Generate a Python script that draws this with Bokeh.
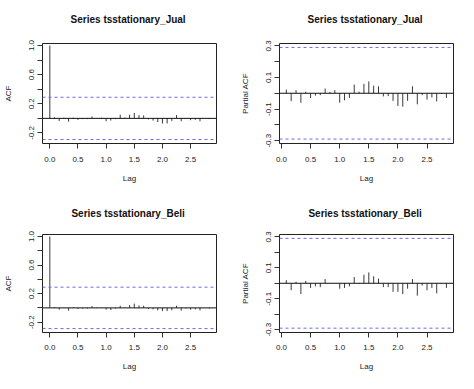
from bokeh.plotting import figure
from bokeh.layouts import column, row
from bokeh.models import Span, FixedTicker, PrintfTickFormatter, Range1d
from bokeh.embed import file_html
from bokeh.resources import INLINE

lags_acf = [k / 12 for k in range(0, 35)]
lags_pacf = [k / 12 for k in range(1, 35)]

acf_jual = [1.0, 0.014, -0.035, 0.01, -0.045, 0.01, -0.02, -0.01, -0.01, 0.025, 0.005, 0.01,
            -0.04, -0.03, -0.01, 0.05, 0.01, 0.05, 0.075, 0.045, 0.04, -0.015, -0.03, -0.05,
            -0.07, -0.07, -0.035, 0.045, -0.04, -0.005, -0.025, -0.02, -0.04, 0.0, -0.01]
pacf_jual = [0.023, -0.05, 0.02, -0.06, 0.01, -0.03, -0.015, -0.012, 0.03, 0.008, 0.02, -0.06,
             -0.045, -0.03, 0.055, 0.01, 0.06, 0.075, 0.048, 0.044, -0.02, -0.018, -0.048, -0.08,
             -0.085, -0.048, 0.044, -0.07, -0.012, -0.04, -0.027, -0.052, -0.005, -0.03]
acf_beli = [1.0, 0.01, -0.025, 0.005, -0.04, 0.01, -0.015, -0.01, -0.01, 0.025, 0.005, 0.005,
            -0.025, -0.03, -0.01, 0.03, 0.005, 0.04, 0.06, 0.035, 0.03, -0.015, -0.02, -0.035,
            -0.045, -0.045, -0.035, 0.03, -0.04, -0.01, -0.025, -0.02, -0.035, 0.0, -0.01]
pacf_beli = [0.02, -0.045, 0.01, -0.07, 0.015, -0.03, -0.02, -0.025, 0.027, 0.0, 0.0, -0.035,
             -0.03, -0.02, 0.04, -0.005, 0.055, 0.07, 0.045, 0.03, -0.025, -0.025, -0.055, -0.055,
             -0.07, -0.035, 0.027, -0.08, -0.015, -0.045, -0.03, -0.065, 0.0, -0.03]

conf_limit = 0.29
titles = ["Series  tsstationary_Jual", "Series  tsstationary_Beli"]
x_ticks = [0, 0.5, 1.0, 1.5, 2.0, 2.5]
acf_major = [-0.2, 0.2, 0.6, 1.0]
acf_minor = [0.0, 0.4, 0.8]
pacf_major = [-0.3, -0.1, 0.1, 0.3]
pacf_minor = [-0.2, 0.0, 0.2]

FONT = "Liberation Sans"


def make_panel(title, lags, vals, kind, left, right, top, bottom, height, width,
               xl_standoff, xa_standoff, title_pad):
    if kind == "acf":
        xr, yr = Range1d(-0.13, 2.96), Range1d(-0.345, 1.028)
        ylab, maj, mnr = "ACF", acf_major, acf_minor
    else:
        xr, yr = Range1d(-0.034, 2.955), Range1d(-0.318, 0.315)
        ylab, maj, mnr = "Partial ACF", pacf_major, pacf_minor
    p = figure(width=width, height=height, x_range=xr, y_range=yr,
               output_backend="svg", toolbar_location=None, title=title,
               min_border_left=left, min_border_right=right,
               min_border_top=top, min_border_bottom=bottom)
    p.title.text_font = FONT
    p.title.text_font_size = "10px"
    p.title.text_font_style = "bold"
    p.title.align = "center"
    p.title.text_color = "#111111"
    p.title.standoff = 0
    p.title.padding = dict(left=0, right=0, top=0, bottom=title_pad)
    p.grid.visible = False
    p.outline_line_color = "#222222"
    p.outline_line_width = 1
    p.background_fill_color = "white"
    p.border_fill_color = "white"

    p.segment(x0=lags, y0=[0] * len(lags), x1=lags, y1=vals, line_color="#3a3a3a", line_width=1)
    p.add_layout(Span(location=0, dimension="width", line_color="#111111", line_width=1))
    for s in (conf_limit, -conf_limit):
        p.add_layout(Span(location=s, dimension="width", line_color="#6a6aee",
                          line_width=1, line_dash="3 3"))

    xa = p.xaxis[0]
    xa.ticker = FixedTicker(ticks=x_ticks)
    xa.formatter = PrintfTickFormatter(format="%.1f")
    xa.axis_label = "Lag"
    ya = p.yaxis[0]
    ya.ticker = FixedTicker(ticks=maj, minor_ticks=mnr)
    ya.formatter = PrintfTickFormatter(format="%.1f")
    ya.axis_label = ylab
    ya.major_label_orientation = "vertical"
    for ax in (xa, ya):
        ax.axis_line_color = None
        ax.major_tick_out = 5
        ax.major_tick_in = 0
        ax.minor_tick_out = 5
        ax.minor_tick_in = 0
        ax.major_tick_line_color = "#333333"
        ax.minor_tick_line_color = "#333333"
        ax.major_label_text_font = FONT
        ax.major_label_text_font_size = "8px"
        ax.major_label_text_color = "#222222"
        ax.axis_label_text_font = FONT
        ax.axis_label_text_font_size = "8px"
        ax.axis_label_text_font_style = "normal"
        ax.axis_label_text_color = "#222222"
    xa.minor_tick_line_color = None
    xa.major_label_standoff = xl_standoff
    xa.axis_label_standoff = xa_standoff
    ya.major_label_standoff = 3
    ya.axis_label_standoff = 14
    return p


p1 = make_panel(titles[0], lags_acf, acf_jual, "acf", 41, 21, 43, 51, 194, 237, 8, 9, 19)
p2 = make_panel(titles[0], lags_pacf, pacf_jual, "pacf", 41, 5, 43, 51, 194, 221, 8, 9, 19)
p3 = make_panel(titles[1], lags_acf, acf_beli, "acf", 41, 21, 40, 38, 179, 237, 7, 9, 16)
p4 = make_panel(titles[1], lags_pacf, pacf_beli, "pacf", 41, 5, 40, 38, 179, 221, 7, 9, 16)

layout = column(row(p1, p2), row(p3, p4))
open("out.html", "w").write(file_html(layout, INLINE))
